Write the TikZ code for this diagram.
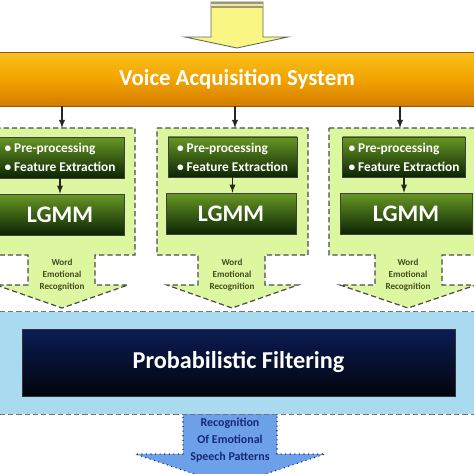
\documentclass[tikz,border=0pt]{standalone}
\usepackage{fontspec}
\setmainfont{Carlito}
\usetikzlibrary{arrows}
\usetikzlibrary{shapes}
\definecolor{ortop}{RGB}{249,192,28}
\definecolor{ormid}{RGB}{242,164,0}
\definecolor{orbot}{RGB}{212,124,0}
\definecolor{gtop}{RGB}{104,152,36}
\definecolor{gbot}{RGB}{12,36,4}
\definecolor{leafgreen}{RGB}{221,247,160}
\definecolor{leaftext}{RGB}{66,76,34}
\definecolor{skyband}{RGB}{170,218,240}
\definecolor{navytop}{RGB}{12,28,84}
\definecolor{navybot}{RGB}{2,4,12}
\definecolor{arrowblue}{RGB}{108,160,232}
\definecolor{navytext}{RGB}{24,40,118}
\definecolor{inyellow}{RGB}{250,246,132}
\newlength{\px}
\setlength{\px}{0.02cm}
\tikzstyle{every picture}=[>=latex]
\tikzstyle{orangebar}=[rectangle, draw=orbot!70!black, line width=0.3pt, top color=ortop, bottom color=orbot, middle color=ormid, text=white, font=\fontsize{13}{15}\selectfont\bfseries]
\tikzstyle{greenbox}=[rectangle, draw=black!75, line width=0.4pt, top color=gtop, bottom color=gbot, text=white, font=\fontsize{7.6}{10.8}\selectfont\bfseries, align=left]
\tikzstyle{lgmmbox}=[greenbox, font=\fontsize{13.5}{15}\selectfont\bfseries]
\tikzstyle{leaf}=[fill=leafgreen, draw=black!70, line width=0.7pt, dash pattern=on 3pt off 1.7pt]
\tikzstyle{leaflabel}=[text=leaftext, font=\fontsize{5.2}{7}\selectfont\bfseries, align=center]
\tikzstyle{band}=[rectangle, fill=skyband, inner sep=0pt]
\tikzstyle{bandline}=[draw=black!55, line width=0.7pt, dash pattern=on 3pt off 1.7pt]
\tikzstyle{navybox}=[rectangle, draw=black!80, top color=navytop, bottom color=navybot, text=white, font=\fontsize{13.8}{17}\selectfont\bfseries]
\tikzstyle{outarrow}=[fill=arrowblue, draw=navytext, line width=0.6pt, dotted]
\tikzstyle{outlabel}=[text=navytext, font=\fontsize{6.8}{9.6}\selectfont\bfseries, align=center]
\tikzstyle{inarrow}=[fill=inyellow, draw=black!60, line width=0.5pt]
\tikzstyle{small arrow}=[->, line width=0.6pt, black!85]

\begin{document}
\begin{tikzpicture}[x=\px, y=-\px]
	\useasboundingbox (0,0) rectangle (474,474);

	% input arrow on top
	\draw[inarrow] (211,2) -- (263,2) -- (263,37) -- (288,37) -- (237,48) -- (185,37) -- (211,37) -- cycle;
	\fill[black!45!olive!60] (211,2) rectangle (263,8);
	\draw[white!80!olive, line width=0.6pt] (211,5) -- (263,5);

	\node[orangebar, minimum width=490\px, minimum height=54\px] (vas) at (237,79) {Voice Acquisition System};

	% the three word branches
	\draw[leaf] (-13,128) -- (135,128) -- (135,255) -- (95,255) -- (95,285) -- (128,285) -- (62,308)
		-- (-4,285) -- (28,285) -- (28,255) -- (-13,255) -- cycle;
	\draw[leaf] (157,128) -- (308,128) -- (308,255) -- (265,255) -- (265,285) -- (298,285) -- (232,308)
		-- (167,285) -- (198,285) -- (198,255) -- (157,255) -- cycle;
	\draw[leaf] (329,128) -- (485,128) -- (485,255) -- (442,255) -- (442,285) -- (476,285) -- (408,308)
		-- (340,285) -- (375,285) -- (375,255) -- (329,255) -- cycle;

	\coordinate (c_1) at (62,128);
	\coordinate (c_2) at (235,128);
	\coordinate (c_3) at (400,128);

	\path (60,157.5) node[greenbox, minimum width=128\px, minimum height=41\px] (pp_1) {\textbullet\ Pre-processing\\ \textbullet\ Feature Extraction}
		(60,214.5) node[lgmmbox, minimum width=128\px, minimum height=41\px] (lgmm_1) {LGMM}
		(232.5,157) node[greenbox, minimum width=129\px, minimum height=40\px] (pp_2) {\textbullet\ Pre-processing\\ \textbullet\ Feature Extraction}
		(231,213.5) node[lgmmbox, minimum width=130\px, minimum height=41\px] (lgmm_2) {LGMM}
		(404,157) node[greenbox, minimum width=122\px, minimum height=40\px] (pp_3) {\textbullet\ Pre-processing\\ \textbullet\ Feature Extraction}
		(406,213.5) node[lgmmbox, minimum width=132\px, minimum height=41\px] (lgmm_3) {LGMM};

	\path (62,275) node[leaflabel] (w_1) {Word\\Emotional\\Recognition}
		(232,275) node[leaflabel] (w_2) {Word\\Emotional\\Recognition}
		(408,275) node[leaflabel] (w_3) {Word\\Emotional\\Recognition};

	\draw[small arrow] (vas.south -| c_1) -- (c_1);
	\draw[small arrow] (vas.south -| c_2) -- (c_2);
	\draw[small arrow] (vas.south -| c_3) -- (c_3);
	\draw[small arrow] (pp_1.south) -- (pp_1.south |- lgmm_1.north);
	\draw[small arrow] (pp_2.south) -- (pp_2.south |- lgmm_2.north);
	\draw[small arrow] (pp_3.south) -- (pp_3.south |- lgmm_3.north);

	% output arrow and filtering band
	\draw[outarrow] (183,410) -- (277,410) -- (277,454) -- (325,454) -- (230,486) -- (135,454) -- (183,454) -- cycle;
	\node[band, minimum width=490\px, minimum height=102\px] (fband) at (237,363) {};
	\draw[bandline] (fband.north west) -- (fband.north east);
	\draw[bandline] (fband.south west) -- (fband.south east);
	\node[navybox, minimum width=433\px, minimum height=67\px] (pf) at (238.5,362.5) {Probabilistic Filtering};
	\node[outlabel] (rec) at (230,440) {Recognition\\Of Emotional\\Speech Patterns};

\end{tikzpicture}
\end{document}
